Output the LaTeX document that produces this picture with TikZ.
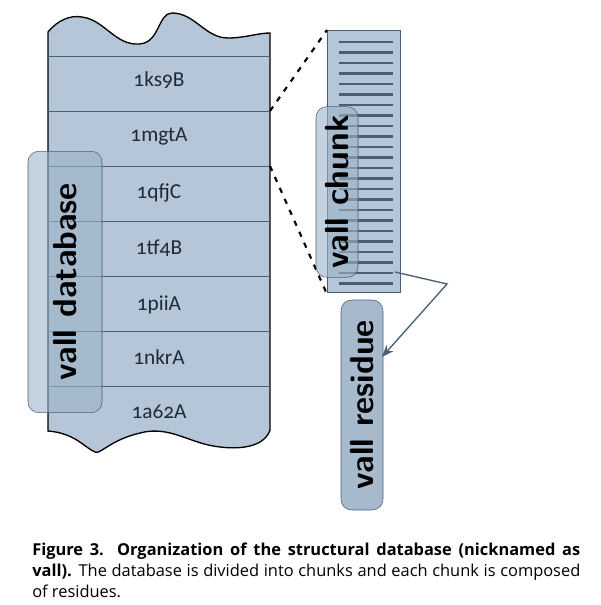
\documentclass[tikz,border=0pt]{standalone}
\usepackage{fontspec}
\setmainfont{Open Sans}
\newfontfamily\lab[Numbers=OldStyle]{Carlito}
\usetikzlibrary{arrows.meta}
\definecolor{fillb}{HTML}{B4C6D8}
\definecolor{tagb}{HTML}{9DB3C8}
\definecolor{lineb}{HTML}{4A5F73}
\definecolor{txt}{HTML}{1E2A38}
\begin{document}
\begin{tikzpicture}[x=0.75pt,y=-0.75pt,
  row/.style={font=\lab\fontsize{16}{16}\selectfont,text=txt},
  tag/.style={draw=lineb,fill=tagb,fill opacity=0.6,text opacity=1,rounded corners=8pt,rotate=90,inner sep=0pt,font=\sffamily\bfseries\fontsize{25}{25}\selectfont,text=black},
  dots/.style={line width=1.6pt,dash pattern=on 4pt off 5pt}]
\useasboundingbox (0,0) rectangle (600,605);
% main stack
\path[fill=fillb,draw=black,line width=1pt] (48,32) .. controls (58,20) and (70,15) .. (82,17) .. controls (105,20) and (115,46) .. (140,44) .. controls (160,42) and (158,13) .. (172,13) .. controls (195,13) and (205,38) .. (228,38) .. controls (245,38) and (258,33) .. (270,33) -- (270,430) .. controls (265,445) and (245,450) .. (220,447) .. controls (190,444) and (170,425) .. (140,433) .. controls (110,440) and (100,455) .. (95,452) .. controls (85,448) and (75,433) .. (48,431) -- cycle;
\foreach \y in {56,111,166,221,276,331,386} \draw[lineb,line width=0.6pt] (48,\y) -- (270,\y);
\node[row] (r1) at (159,80) {1ks9B};
\node[row] (r2) at (159,136) {1mgtA};
\node[row] (r3) at (159,193) {1qfjC};
\node[row] (r4) at (159,248) {1tf4B};
\node[row] (r5) at (159,305) {1piiA};
\node[row] (r6) at (159,357) {1nkrA};
\node[row] (r7) at (159,412) {1a62A};
\coordinate (s1) at (270,111);
\coordinate (s2) at (270,166);
% chunk
\node[draw=lineb,fill=fillb,minimum width=54.75pt,minimum height=196.5pt,inner sep=0pt] (chunk) at (363.5,161) {};
\foreach \i in {0,...,23} \draw[lineb,line width=1.8pt] (339,{42+\i*10.5}) -- (393,{42+\i*10.5});
\coordinate (ct) at (327,30);
\coordinate (cb) at (326,292);
\draw[dots] (s1) -- (ct);
\draw[dots] (s2) -- (cb);
% tags
\node[tag,minimum width=128pt,minimum height=31.5pt] (vc) at (337,192) {vall chunk};
\node[tag,minimum width=196pt,minimum height=55.5pt] (vd) at (65,282) {vall database};
\node[tag,minimum width=157.5pt,minimum height=31.5pt,fill opacity=0.9] (vr) at (362,405) {vall residue};
% arrow
\coordinate (a0) at (395,272);
\coordinate (a1) at (447,284);
\coordinate (a2) at (382,357);
\draw[lineb,line width=1pt,-{Stealth[length=9pt,width=7pt]}] (a0) -- (a1) -- (a2);
% caption
\node[anchor=north west,text width=411pt,align=justify,inner sep=0pt,font=\fontsize{12.3}{15.5}\selectfont] (cap) at (32,543)
{\textbf{Figure 3. Organization of the structural database (nicknamed as vall).} The database is divided into chunks and each chunk is composed of residues.};
\end{tikzpicture}
\end{document}
